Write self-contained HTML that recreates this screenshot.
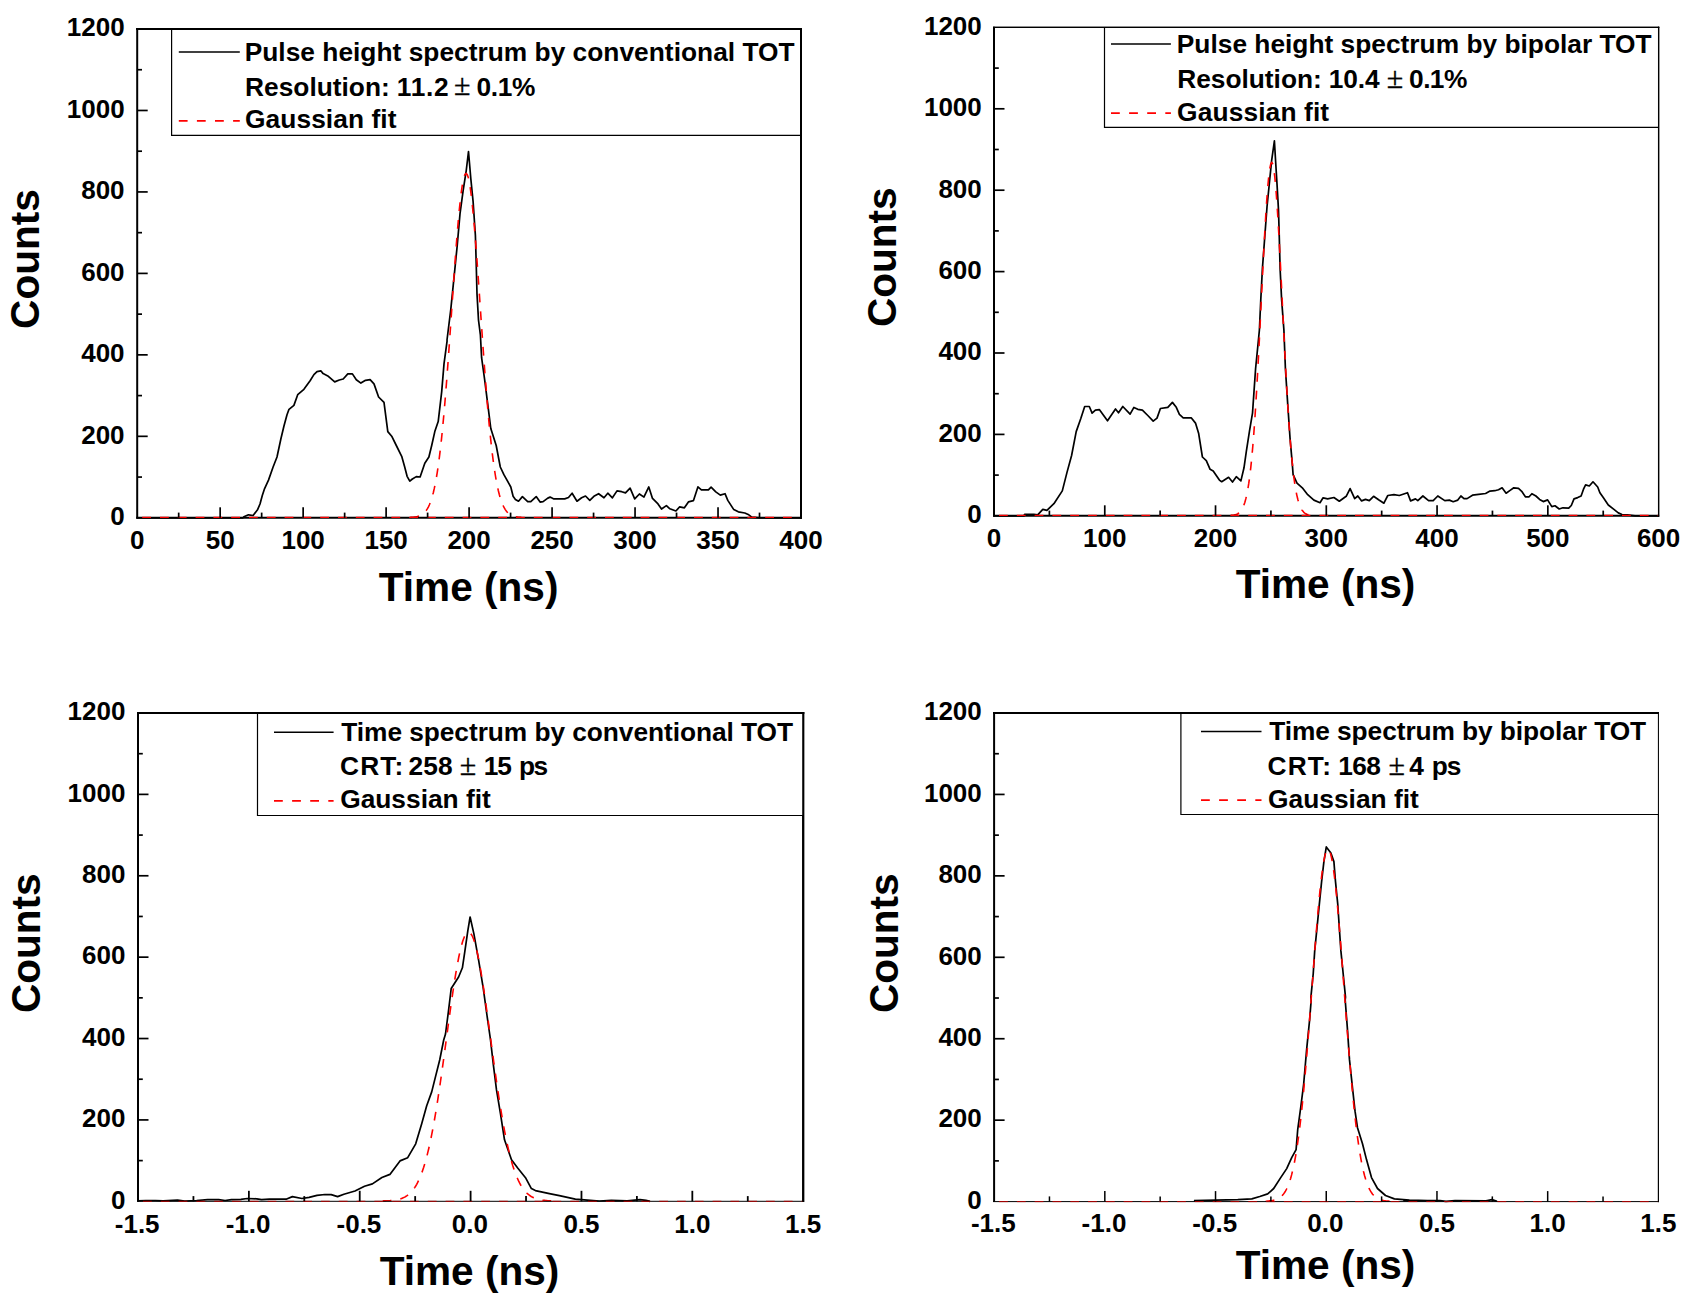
<!DOCTYPE html>
<html lang="en"><head><meta charset="utf-8"><title>TOT spectra</title>
<style>
html,body{margin:0;padding:0;background:#fff;}
body{width:1704px;height:1299px;overflow:hidden;}
svg{display:block;}
.t{font-family:"Liberation Sans", sans-serif;font-weight:bold;fill:#000;}
.n{font-family:"Liberation Serif","DejaVu Serif",serif;font-weight:normal;fill:#000;}
</style></head><body>
<svg width="1704" height="1299" viewBox="0 0 1704 1299">
<rect width="1704" height="1299" fill="#fff"/>
<g>
<path d="M137.2 517.8 L243.0 517.8 L243.9 516.8 L248.5 514.8 L253.1 515.5 L257.7 509.4 L260.0 504.0 L262.3 495.5 L264.6 488.6 L268.5 480.1 L273.1 467.0 L277.0 457.0 L280.8 439.3 L283.9 426.2 L287.0 414.7 L289.0 409.3 L293.9 405.4 L297.7 394.7 L303.9 389.3 L310.1 380.8 L313.9 374.6 L317.0 371.6 L320.8 370.8 L323.1 373.6 L327.8 375.9 L334.7 381.9 L339.3 380.0 L343.2 379.0 L347.8 373.9 L352.4 373.9 L356.3 379.7 L360.9 383.1 L365.5 380.3 L370.1 379.7 L374.0 383.9 L378.6 397.0 L384.0 402.4 L387.8 431.6 L391.7 436.2 L396.3 445.5 L401.7 456.3 L404.7 467.0 L407.1 476.3 L409.8 481.2 L412.4 479.0 L416.3 476.6 L420.1 477.0 L424.8 463.2 L428.9 457.0 L431.7 445.5 L434.8 431.6 L438.2 421.6 L441.7 391.6 L444.0 363.9 L447.1 340.8 L447.0 340.0 L450.8 309.4 L453.9 278.6 L457.0 247.8 L460.0 213.9 L463.1 190.8 L466.2 170.8 L468.5 151.5 L470.8 178.5 L473.1 201.6 L475.4 235.5 L476.2 263.2 L477.0 294.0 L478.5 320.1 L480.4 335.0 L481.6 357.7 L484.6 379.3 L487.7 403.9 L490.8 428.5 L496.2 445.5 L500.3 467.0 L503.9 474.7 L510.8 487.0 L513.1 496.3 L515.4 499.4 L518.5 501.2 L522.4 496.6 L527.7 501.7 L530.8 501.7 L536.2 496.6 L540.1 502.1 L543.1 501.7 L547.8 498.1 L550.1 497.1 L553.9 498.9 L564.7 498.9 L568.5 497.5 L572.1 493.2 L577.0 501.2 L581.6 497.8 L585.5 496.0 L589.8 500.3 L593.9 496.3 L598.6 493.7 L604.0 497.8 L607.8 493.2 L612.4 497.8 L617.0 490.9 L621.7 491.7 L625.5 492.9 L630.1 488.1 L634.7 498.9 L639.4 494.0 L644.0 497.1 L644.0 496.9 L648.8 486.9 L652.5 498.4 L658.0 503.9 L661.5 509.0 L666.4 505.6 L669.9 508.8 L675.9 511.0 L679.7 506.8 L684.4 507.8 L688.4 501.9 L693.4 500.7 L697.9 486.9 L701.4 489.9 L708.4 489.9 L711.1 487.1 L715.8 491.9 L720.3 495.1 L725.0 493.7 L727.8 500.4 L733.8 509.6 L738.3 511.8 L744.8 513.0 L748.8 514.8 L751.8 517.1 L760.0 517.8 L801.0 517.8" fill="none" stroke="#000" stroke-width="1.7" stroke-linejoin="round"/>
<path d="M410.3 517.4 L411.3 517.4 L412.3 517.3 L413.3 517.2 L414.3 517.1 L415.3 517.0 L416.3 516.8 L417.3 516.6 L418.3 516.3 L419.3 516.0 L420.3 515.5 L421.3 515.0 L422.3 514.4 L423.3 513.7 L424.3 512.8 L425.3 511.7 L426.3 510.4 L427.3 508.9 L428.3 507.1 L429.3 505.0 L430.3 502.5 L431.3 499.7 L432.3 496.4 L433.3 492.7 L434.3 488.4 L435.3 483.6 L436.3 478.2 L437.3 472.1 L438.3 465.4 L439.3 457.9 L440.3 449.7 L441.3 440.8 L442.3 431.1 L443.3 420.7 L444.3 409.6 L445.3 397.7 L446.3 385.2 L447.3 372.2 L448.3 358.6 L449.3 344.6 L450.3 330.2 L451.3 315.7 L452.3 301.1 L453.3 286.6 L454.3 272.3 L455.3 258.4 L456.3 245.1 L457.3 232.4 L458.3 220.6 L459.3 209.9 L460.3 200.3 L461.3 192.0 L462.3 185.2 L463.3 179.8 L464.3 176.0 L465.3 173.9 L466.3 173.4 L467.3 174.7 L468.3 177.6 L469.3 182.1 L470.3 188.1 L471.3 195.7 L472.3 204.6 L473.3 214.7 L474.3 225.9 L475.3 238.1 L476.3 251.1 L477.3 264.7 L478.3 278.8 L479.3 293.2 L480.3 307.8 L481.3 322.4 L482.3 336.8 L483.3 351.0 L484.3 364.9 L485.3 378.2 L486.3 391.1 L487.3 403.3 L488.3 414.8 L489.3 425.6 L490.3 435.7 L491.3 445.0 L492.3 453.6 L493.3 461.4 L494.3 468.6 L495.3 475.0 L496.3 480.8 L497.3 485.9 L498.3 490.5 L499.3 494.5 L500.3 498.0 L501.3 501.0 L502.3 503.7 L503.3 506.0 L504.3 507.9 L505.3 509.6 L506.3 511.0 L507.3 512.2 L508.3 513.2 L509.3 514.0 L510.3 514.7 L511.3 515.3 L512.3 515.7 L513.3 516.1 L514.3 516.4 L515.3 516.7 L516.3 516.9 L517.3 517.0 L518.3 517.2 L519.3 517.3 L520.3 517.3 L521.3 517.4" fill="none" stroke="#ff0000" stroke-width="1.6" stroke-dasharray="8.8 9" stroke-linejoin="round"/>
<line x1="137.20" y1="28.00" x2="137.20" y2="518.80" stroke="#000" stroke-width="2"/>
<line x1="801.00" y1="28.00" x2="801.00" y2="518.80" stroke="#000" stroke-width="2"/>
<line x1="136.20" y1="29.00" x2="802.00" y2="29.00" stroke="#000" stroke-width="2"/>
<line x1="136.20" y1="517.80" x2="802.00" y2="517.80" stroke="#000" stroke-width="2"/>
<line x1="138.20" y1="517.35" x2="800.50" y2="517.35" stroke="#ff0000" stroke-width="1.25" stroke-dasharray="8.8 9" stroke-dashoffset="-4"/>
<text x="124.60" y="525.10" text-anchor="end" font-size="26.0" class="t">0</text>
<line x1="137.20" y1="477.07" x2="142.00" y2="477.07" stroke="#000" stroke-width="1.7"/>
<line x1="137.20" y1="436.33" x2="147.70" y2="436.33" stroke="#000" stroke-width="1.7"/>
<text x="124.60" y="443.63" text-anchor="end" font-size="26.0" class="t">200</text>
<line x1="137.20" y1="395.60" x2="142.00" y2="395.60" stroke="#000" stroke-width="1.7"/>
<line x1="137.20" y1="354.87" x2="147.70" y2="354.87" stroke="#000" stroke-width="1.7"/>
<text x="124.60" y="362.17" text-anchor="end" font-size="26.0" class="t">400</text>
<line x1="137.20" y1="314.13" x2="142.00" y2="314.13" stroke="#000" stroke-width="1.7"/>
<line x1="137.20" y1="273.40" x2="147.70" y2="273.40" stroke="#000" stroke-width="1.7"/>
<text x="124.60" y="280.70" text-anchor="end" font-size="26.0" class="t">600</text>
<line x1="137.20" y1="232.67" x2="142.00" y2="232.67" stroke="#000" stroke-width="1.7"/>
<line x1="137.20" y1="191.93" x2="147.70" y2="191.93" stroke="#000" stroke-width="1.7"/>
<text x="124.60" y="199.23" text-anchor="end" font-size="26.0" class="t">800</text>
<line x1="137.20" y1="151.20" x2="142.00" y2="151.20" stroke="#000" stroke-width="1.7"/>
<line x1="137.20" y1="110.47" x2="147.70" y2="110.47" stroke="#000" stroke-width="1.7"/>
<text x="124.60" y="117.77" text-anchor="end" font-size="26.0" class="t">1000</text>
<line x1="137.20" y1="69.73" x2="142.00" y2="69.73" stroke="#000" stroke-width="1.7"/>
<text x="124.60" y="36.30" text-anchor="end" font-size="26.0" class="t">1200</text>
<text x="137.20" y="548.80" text-anchor="middle" font-size="26.0" class="t">0</text>
<line x1="178.69" y1="517.80" x2="178.69" y2="512.60" stroke="#000" stroke-width="1.7"/>
<line x1="220.17" y1="517.80" x2="220.17" y2="507.30" stroke="#000" stroke-width="1.7"/>
<text x="220.17" y="548.80" text-anchor="middle" font-size="26.0" class="t">50</text>
<line x1="261.66" y1="517.80" x2="261.66" y2="512.60" stroke="#000" stroke-width="1.7"/>
<line x1="303.15" y1="517.80" x2="303.15" y2="507.30" stroke="#000" stroke-width="1.7"/>
<text x="303.15" y="548.80" text-anchor="middle" font-size="26.0" class="t">100</text>
<line x1="344.64" y1="517.80" x2="344.64" y2="512.60" stroke="#000" stroke-width="1.7"/>
<line x1="386.12" y1="517.80" x2="386.12" y2="507.30" stroke="#000" stroke-width="1.7"/>
<text x="386.12" y="548.80" text-anchor="middle" font-size="26.0" class="t">150</text>
<line x1="427.61" y1="517.80" x2="427.61" y2="512.60" stroke="#000" stroke-width="1.7"/>
<line x1="469.10" y1="517.80" x2="469.10" y2="507.30" stroke="#000" stroke-width="1.7"/>
<text x="469.10" y="548.80" text-anchor="middle" font-size="26.0" class="t">200</text>
<line x1="510.59" y1="517.80" x2="510.59" y2="512.60" stroke="#000" stroke-width="1.7"/>
<line x1="552.08" y1="517.80" x2="552.08" y2="507.30" stroke="#000" stroke-width="1.7"/>
<text x="552.08" y="548.80" text-anchor="middle" font-size="26.0" class="t">250</text>
<line x1="593.56" y1="517.80" x2="593.56" y2="512.60" stroke="#000" stroke-width="1.7"/>
<line x1="635.05" y1="517.80" x2="635.05" y2="507.30" stroke="#000" stroke-width="1.7"/>
<text x="635.05" y="548.80" text-anchor="middle" font-size="26.0" class="t">300</text>
<line x1="676.54" y1="517.80" x2="676.54" y2="512.60" stroke="#000" stroke-width="1.7"/>
<line x1="718.03" y1="517.80" x2="718.03" y2="507.30" stroke="#000" stroke-width="1.7"/>
<text x="718.03" y="548.80" text-anchor="middle" font-size="26.0" class="t">350</text>
<line x1="759.51" y1="517.80" x2="759.51" y2="512.60" stroke="#000" stroke-width="1.7"/>
<text x="801.00" y="548.80" text-anchor="middle" font-size="26.0" class="t">400</text>
<text x="468.60" y="601.00" text-anchor="middle" font-size="40.6" class="t">Time (ns)</text>
<text transform="translate(38.90 259.00) rotate(-90)" text-anchor="middle" font-size="40.6" class="t">Counts</text>
<rect x="171.60" y="29.00" width="629.40" height="106.40" fill="#fff" stroke="none"/>
<path d="M171.60 29.00 V135.40 H801.00" fill="none" stroke="#000" stroke-width="1.2"/>
<line x1="178.80" y1="52.00" x2="239.80" y2="52.00" stroke="#000" stroke-width="1.6"/>
<line x1="178.80" y1="120.80" x2="239.80" y2="120.80" stroke="#ff0000" stroke-width="1.8" stroke-dasharray="8.8 9.3"/>
<text x="244.70" y="60.80" font-size="26.3" class="t" textLength="549.90" lengthAdjust="spacing">Pulse height spectrum by conventional TOT</text>
<text x="245.10" y="95.60" font-size="26.3" class="t">Resolution:</text>
<text x="396.80" y="95.60" font-size="26.3" class="t" textLength="51.80" lengthAdjust="spacing">11.2</text>
<text x="454.00" y="95.30" font-size="30" class="n" stroke="#000" stroke-width="0.35">±</text>
<text x="476.50" y="95.60" font-size="26.3" class="t" textLength="58.90" lengthAdjust="spacing">0.1%</text>
<text x="245.00" y="128.40" font-size="26.3" class="t" textLength="151.50" lengthAdjust="spacing">Gaussian fit</text>
<line x1="801.00" y1="28.00" x2="801.00" y2="518.80" stroke="#000" stroke-width="2"/>
<line x1="136.20" y1="29.00" x2="802.00" y2="29.00" stroke="#000" stroke-width="2"/>
</g>
<g>
<path d="M994.0 515.8 L1024.0 515.8 L1024.6 514.4 L1033.9 514.4 L1037.7 514.8 L1042.8 509.4 L1046.9 510.4 L1053.9 503.7 L1062.3 490.9 L1067.0 472.4 L1071.6 455.5 L1076.2 431.6 L1080.8 418.5 L1084.7 406.5 L1089.3 406.5 L1092.1 413.1 L1095.4 410.1 L1099.3 409.6 L1107.5 420.8 L1115.5 409.0 L1118.5 412.8 L1122.8 406.5 L1130.1 414.2 L1133.9 407.4 L1137.8 409.3 L1142.4 410.1 L1147.8 415.5 L1153.2 421.1 L1157.0 418.1 L1160.4 408.5 L1167.8 407.4 L1172.4 402.4 L1176.3 407.3 L1179.4 414.4 L1183.2 417.8 L1191.2 417.8 L1195.5 423.1 L1198.6 433.2 L1202.4 457.0 L1206.3 460.6 L1210.1 469.3 L1213.2 470.9 L1219.4 480.1 L1221.7 481.7 L1228.6 477.3 L1232.5 482.0 L1236.3 476.7 L1240.9 480.9 L1244.0 467.8 L1246.3 451.6 L1249.4 431.6 L1252.5 413.1 L1254.0 391.6 L1255.6 368.5 L1257.9 345.4 L1259.4 330.0 L1260.8 299.4 L1262.4 268.6 L1264.7 237.8 L1267.0 207.0 L1269.3 183.9 L1271.6 160.8 L1274.4 140.8 L1275.4 157.7 L1277.0 183.9 L1278.5 210.1 L1279.3 237.8 L1280.1 268.6 L1281.6 299.4 L1283.9 330.0 L1285.4 368.5 L1287.7 403.9 L1290.0 437.8 L1292.3 463.9 L1293.1 474.7 L1297.0 483.2 L1302.3 487.8 L1307.7 494.7 L1313.9 500.1 L1320.0 502.7 L1323.1 497.8 L1327.7 498.9 L1333.9 497.5 L1339.3 501.2 L1346.2 496.3 L1350.1 488.6 L1354.7 498.6 L1357.8 496.0 L1361.6 500.9 L1365.5 499.4 L1369.3 500.6 L1373.6 496.3 L1378.6 499.8 L1383.9 503.2 L1387.8 495.5 L1393.9 494.7 L1399.3 495.5 L1407.5 492.7 L1410.6 500.9 L1415.5 498.9 L1417.8 500.6 L1422.9 496.0 L1428.6 500.6 L1433.2 500.6 L1437.8 496.0 L1444.8 500.6 L1449.4 500.1 L1453.2 501.7 L1457.8 500.1 L1460.9 496.0 L1464.0 498.6 L1467.1 498.6 L1472.5 495.2 L1478.6 494.4 L1485.6 493.5 L1490.0 491.1 L1494.8 490.7 L1498.5 489.7 L1502.1 487.8 L1506.1 493.2 L1510.1 490.4 L1513.8 487.8 L1518.5 488.4 L1521.7 491.3 L1525.4 496.8 L1529.1 496.8 L1531.9 493.7 L1535.9 496.0 L1539.6 499.4 L1543.3 501.6 L1547.6 499.9 L1551.8 506.6 L1555.0 505.8 L1559.2 509.0 L1562.9 507.8 L1568.7 508.2 L1571.3 505.5 L1574.0 498.9 L1577.7 497.6 L1581.1 496.0 L1583.5 489.2 L1585.6 484.9 L1589.3 486.0 L1593.0 481.8 L1597.7 487.0 L1599.9 492.8 L1603.6 498.1 L1608.3 505.0 L1613.6 509.2 L1618.3 512.9 L1622.0 514.5 L1627.3 514.8 L1635.0 515.8 L1658.6 515.8" fill="none" stroke="#000" stroke-width="1.7" stroke-linejoin="round"/>
<path d="M1230.8 515.4 L1231.8 515.3 L1232.8 515.2 L1233.8 515.1 L1234.8 514.9 L1235.8 514.6 L1236.8 514.2 L1237.8 513.7 L1238.8 513.0 L1239.8 512.2 L1240.8 511.0 L1241.8 509.6 L1242.8 507.7 L1243.8 505.4 L1244.8 502.5 L1245.8 498.9 L1246.8 494.6 L1247.8 489.4 L1248.8 483.2 L1249.8 475.9 L1250.8 467.3 L1251.8 457.5 L1252.8 446.3 L1253.8 433.7 L1254.8 419.6 L1255.8 404.2 L1256.8 387.4 L1257.8 369.4 L1258.8 350.5 L1259.8 330.7 L1260.8 310.5 L1261.8 290.1 L1262.8 269.9 L1263.8 250.4 L1264.8 231.8 L1265.8 214.7 L1266.8 199.5 L1267.8 186.5 L1268.8 176.0 L1269.8 168.4 L1270.8 163.8 L1271.8 162.3 L1272.8 164.1 L1273.8 169.0 L1274.8 176.9 L1275.8 187.6 L1276.8 200.9 L1277.8 216.4 L1278.8 233.6 L1279.8 252.3 L1280.8 271.9 L1281.8 292.1 L1282.8 312.5 L1283.8 332.7 L1284.8 352.4 L1285.8 371.3 L1286.8 389.1 L1287.8 405.8 L1288.8 421.1 L1289.8 435.0 L1290.8 447.5 L1291.8 458.5 L1292.8 468.2 L1293.8 476.7 L1294.8 483.9 L1295.8 490.0 L1296.8 495.1 L1297.8 499.3 L1298.8 502.8 L1299.8 505.6 L1300.8 507.9 L1301.8 509.7 L1302.8 511.1 L1303.8 512.3 L1304.8 513.1 L1305.8 513.8 L1306.8 514.3 L1307.8 514.6 L1308.8 514.9 L1309.8 515.1 L1310.8 515.2 L1311.8 515.4" fill="none" stroke="#ff0000" stroke-width="1.6" stroke-dasharray="8.8 9" stroke-linejoin="round"/>
<line x1="994.00" y1="26.70" x2="994.00" y2="516.80" stroke="#000" stroke-width="2"/>
<line x1="1658.60" y1="26.70" x2="1658.60" y2="516.80" stroke="#000" stroke-width="1.25"/>
<line x1="993.00" y1="27.40" x2="1659.22" y2="27.40" stroke="#000" stroke-width="1.4"/>
<line x1="993.00" y1="515.80" x2="1659.22" y2="515.80" stroke="#000" stroke-width="2"/>
<line x1="995.00" y1="515.35" x2="1658.10" y2="515.35" stroke="#ff0000" stroke-width="1.25" stroke-dasharray="8.8 9" stroke-dashoffset="-4"/>
<text x="981.80" y="523.10" text-anchor="end" font-size="26.0" class="t">0</text>
<line x1="994.00" y1="475.10" x2="998.80" y2="475.10" stroke="#000" stroke-width="1.7"/>
<line x1="994.00" y1="434.40" x2="1004.50" y2="434.40" stroke="#000" stroke-width="1.7"/>
<text x="981.80" y="441.70" text-anchor="end" font-size="26.0" class="t">200</text>
<line x1="994.00" y1="393.70" x2="998.80" y2="393.70" stroke="#000" stroke-width="1.7"/>
<line x1="994.00" y1="353.00" x2="1004.50" y2="353.00" stroke="#000" stroke-width="1.7"/>
<text x="981.80" y="360.30" text-anchor="end" font-size="26.0" class="t">400</text>
<line x1="994.00" y1="312.30" x2="998.80" y2="312.30" stroke="#000" stroke-width="1.7"/>
<line x1="994.00" y1="271.60" x2="1004.50" y2="271.60" stroke="#000" stroke-width="1.7"/>
<text x="981.80" y="278.90" text-anchor="end" font-size="26.0" class="t">600</text>
<line x1="994.00" y1="230.90" x2="998.80" y2="230.90" stroke="#000" stroke-width="1.7"/>
<line x1="994.00" y1="190.20" x2="1004.50" y2="190.20" stroke="#000" stroke-width="1.7"/>
<text x="981.80" y="197.50" text-anchor="end" font-size="26.0" class="t">800</text>
<line x1="994.00" y1="149.50" x2="998.80" y2="149.50" stroke="#000" stroke-width="1.7"/>
<line x1="994.00" y1="108.80" x2="1004.50" y2="108.80" stroke="#000" stroke-width="1.7"/>
<text x="981.80" y="116.10" text-anchor="end" font-size="26.0" class="t">1000</text>
<line x1="994.00" y1="68.10" x2="998.80" y2="68.10" stroke="#000" stroke-width="1.7"/>
<text x="981.80" y="34.70" text-anchor="end" font-size="26.0" class="t">1200</text>
<text x="994.00" y="546.60" text-anchor="middle" font-size="26.0" class="t">0</text>
<line x1="1049.38" y1="515.80" x2="1049.38" y2="510.60" stroke="#000" stroke-width="1.7"/>
<line x1="1104.77" y1="515.80" x2="1104.77" y2="505.30" stroke="#000" stroke-width="1.7"/>
<text x="1104.77" y="546.60" text-anchor="middle" font-size="26.0" class="t">100</text>
<line x1="1160.15" y1="515.80" x2="1160.15" y2="510.60" stroke="#000" stroke-width="1.7"/>
<line x1="1215.53" y1="515.80" x2="1215.53" y2="505.30" stroke="#000" stroke-width="1.7"/>
<text x="1215.53" y="546.60" text-anchor="middle" font-size="26.0" class="t">200</text>
<line x1="1270.92" y1="515.80" x2="1270.92" y2="510.60" stroke="#000" stroke-width="1.7"/>
<line x1="1326.30" y1="515.80" x2="1326.30" y2="505.30" stroke="#000" stroke-width="1.7"/>
<text x="1326.30" y="546.60" text-anchor="middle" font-size="26.0" class="t">300</text>
<line x1="1381.68" y1="515.80" x2="1381.68" y2="510.60" stroke="#000" stroke-width="1.7"/>
<line x1="1437.07" y1="515.80" x2="1437.07" y2="505.30" stroke="#000" stroke-width="1.7"/>
<text x="1437.07" y="546.60" text-anchor="middle" font-size="26.0" class="t">400</text>
<line x1="1492.45" y1="515.80" x2="1492.45" y2="510.60" stroke="#000" stroke-width="1.7"/>
<line x1="1547.83" y1="515.80" x2="1547.83" y2="505.30" stroke="#000" stroke-width="1.7"/>
<text x="1547.83" y="546.60" text-anchor="middle" font-size="26.0" class="t">500</text>
<line x1="1603.22" y1="515.80" x2="1603.22" y2="510.60" stroke="#000" stroke-width="1.7"/>
<text x="1658.60" y="546.60" text-anchor="middle" font-size="26.0" class="t">600</text>
<text x="1325.50" y="597.70" text-anchor="middle" font-size="40.6" class="t">Time (ns)</text>
<text transform="translate(895.60 257.20) rotate(-90)" text-anchor="middle" font-size="40.6" class="t">Counts</text>
<rect x="1104.50" y="27.40" width="554.10" height="100.00" fill="#fff" stroke="none"/>
<path d="M1104.50 27.40 V127.40 H1658.60" fill="none" stroke="#000" stroke-width="1.2"/>
<line x1="1111.00" y1="44.00" x2="1170.90" y2="44.00" stroke="#000" stroke-width="1.6"/>
<line x1="1111.00" y1="113.10" x2="1170.90" y2="113.10" stroke="#ff0000" stroke-width="1.8" stroke-dasharray="8.8 9.3"/>
<text x="1176.80" y="53.30" font-size="26.3" class="t" textLength="474.80" lengthAdjust="spacing">Pulse height spectrum by bipolar TOT</text>
<text x="1177.20" y="88.40" font-size="26.3" class="t">Resolution:</text>
<text x="1328.80" y="88.40" font-size="26.3" class="t" textLength="50.90" lengthAdjust="spacing">10.4</text>
<text x="1386.70" y="88.10" font-size="30" class="n" stroke="#000" stroke-width="0.35">±</text>
<text x="1409.10" y="88.40" font-size="26.3" class="t" textLength="58.20" lengthAdjust="spacing">0.1%</text>
<text x="1177.10" y="121.20" font-size="26.3" class="t" textLength="152.00" lengthAdjust="spacing">Gaussian fit</text>
<line x1="1658.60" y1="26.70" x2="1658.60" y2="516.80" stroke="#000" stroke-width="1.25"/>
<line x1="993.00" y1="27.40" x2="1659.22" y2="27.40" stroke="#000" stroke-width="1.4"/>
</g>
<g>
<path d="M137.9 1200.8 L145.8 1200.5 L155.4 1200.5 L163.3 1200.8 L177.5 1200.2 L184.7 1201.0 L196.6 1200.5 L207.6 1199.7 L218.7 1199.7 L225.1 1200.5 L231.4 1199.7 L240.9 1199.4 L247.3 1198.5 L256.8 1198.8 L261.5 1199.7 L269.4 1199.2 L278.9 1199.2 L286.1 1199.2 L292.4 1196.6 L301.9 1198.5 L309.1 1197.3 L317.0 1195.4 L324.9 1194.5 L331.2 1194.6 L337.6 1196.6 L343.9 1194.2 L355.0 1191.0 L364.5 1186.3 L372.4 1183.9 L381.9 1177.5 L389.9 1174.4 L400.0 1160.9 L407.7 1157.7 L415.7 1143.8 L421.7 1123.8 L426.7 1105.8 L431.7 1091.9 L435.7 1075.9 L439.7 1060.0 L443.7 1040.0 L445.5 1034.0 L448.5 1010.9 L451.2 988.5 L458.6 977.0 L462.4 967.8 L464.7 952.4 L467.8 930.8 L470.1 917.0 L473.9 933.9 L478.6 960.1 L483.2 987.8 L487.0 1015.5 L490.1 1037.0 L490.5 1040.0 L493.5 1065.9 L496.5 1089.9 L500.5 1113.8 L504.5 1139.8 L511.5 1159.7 L517.5 1167.7 L525.5 1177.7 L531.4 1188.6 L535.4 1190.6 L549.4 1193.6 L559.4 1195.6 L575.3 1199.2 L587.3 1200.2 L599.3 1201.0 L611.3 1200.4 L627.2 1200.8 L640.0 1199.6 L646.0 1200.4 L650.0 1201.3" fill="none" stroke="#000" stroke-width="1.7" stroke-linejoin="round"/>
<path d="M382.7 1201.0 L383.7 1200.9 L384.7 1200.9 L385.7 1200.9 L386.7 1200.8 L387.7 1200.8 L388.7 1200.7 L389.7 1200.7 L390.7 1200.6 L391.7 1200.5 L392.7 1200.4 L393.7 1200.3 L394.7 1200.1 L395.7 1200.0 L396.7 1199.8 L397.7 1199.6 L398.7 1199.3 L399.7 1199.1 L400.7 1198.8 L401.7 1198.4 L402.7 1198.0 L403.7 1197.6 L404.7 1197.1 L405.7 1196.5 L406.7 1195.9 L407.7 1195.2 L408.7 1194.4 L409.7 1193.5 L410.7 1192.6 L411.7 1191.5 L412.7 1190.3 L413.7 1189.0 L414.7 1187.6 L415.7 1186.0 L416.7 1184.3 L417.7 1182.4 L418.7 1180.3 L419.7 1178.1 L420.7 1175.7 L421.7 1173.1 L422.7 1170.3 L423.7 1167.3 L424.7 1164.0 L425.7 1160.6 L426.7 1156.9 L427.7 1152.9 L428.7 1148.7 L429.7 1144.3 L430.7 1139.6 L431.7 1134.7 L432.7 1129.5 L433.7 1124.1 L434.7 1118.5 L435.7 1112.6 L436.7 1106.5 L437.7 1100.2 L438.7 1093.6 L439.7 1086.9 L440.7 1080.0 L441.7 1073.0 L442.7 1065.9 L443.7 1058.6 L444.7 1051.3 L445.7 1043.9 L446.7 1036.5 L447.7 1029.1 L448.7 1021.7 L449.7 1014.4 L450.7 1007.2 L451.7 1000.2 L452.7 993.3 L453.7 986.6 L454.7 980.2 L455.7 974.0 L456.7 968.2 L457.7 962.7 L458.7 957.5 L459.7 952.8 L460.7 948.5 L461.7 944.7 L462.7 941.3 L463.7 938.5 L464.7 936.1 L465.7 934.3 L466.7 933.0 L467.7 932.3 L468.7 932.1 L469.7 932.5 L470.7 933.5 L471.7 935.0 L472.7 937.0 L473.7 939.5 L474.7 942.6 L475.7 946.2 L476.7 950.2 L477.7 954.6 L478.7 959.5 L479.7 964.8 L480.7 970.5 L481.7 976.4 L482.7 982.7 L483.7 989.2 L484.7 996.0 L485.7 1003.0 L486.7 1010.1 L487.7 1017.3 L488.7 1024.6 L489.7 1032.0 L490.7 1039.4 L491.7 1046.9 L492.7 1054.2 L493.7 1061.5 L494.7 1068.7 L495.7 1075.9 L496.7 1082.8 L497.7 1089.6 L498.7 1096.3 L499.7 1102.7 L500.7 1108.9 L501.7 1115.0 L502.7 1120.8 L503.7 1126.3 L504.7 1131.6 L505.7 1136.7 L506.7 1141.5 L507.7 1146.1 L508.7 1150.4 L509.7 1154.5 L510.7 1158.4 L511.7 1162.0 L512.7 1165.4 L513.7 1168.5 L514.7 1171.4 L515.7 1174.2 L516.7 1176.7 L517.7 1179.0 L518.7 1181.2 L519.7 1183.2 L520.7 1185.0 L521.7 1186.6 L522.7 1188.2 L523.7 1189.5 L524.7 1190.8 L525.7 1191.9 L526.7 1193.0 L527.7 1193.9 L528.7 1194.7 L529.7 1195.5 L530.7 1196.2 L531.7 1196.8 L532.7 1197.3 L533.7 1197.8 L534.7 1198.2 L535.7 1198.6 L536.7 1198.9 L537.7 1199.2 L538.7 1199.4 L539.7 1199.7 L540.7 1199.9 L541.7 1200.0 L542.7 1200.2 L543.7 1200.3 L544.7 1200.4 L545.7 1200.5 L546.7 1200.6 L547.7 1200.7 L548.7 1200.8 L549.7 1200.8 L550.7 1200.8 L551.7 1200.9 L552.7 1200.9 L553.7 1201.0" fill="none" stroke="#ff0000" stroke-width="1.6" stroke-dasharray="8.8 9" stroke-linejoin="round"/>
<line x1="138.00" y1="712.00" x2="138.00" y2="1201.80" stroke="#000" stroke-width="2"/>
<line x1="803.20" y1="712.00" x2="803.20" y2="1201.80" stroke="#000" stroke-width="2"/>
<line x1="137.00" y1="713.00" x2="804.20" y2="713.00" stroke="#000" stroke-width="2"/>
<line x1="137.00" y1="1201.30" x2="804.20" y2="1201.30" stroke="#000" stroke-width="1"/>
<line x1="139.00" y1="1201.30" x2="802.70" y2="1201.30" stroke="#b00000" stroke-width="1.0" stroke-dasharray="8.8 9" stroke-dashoffset="-4"/>
<text x="125.40" y="1208.60" text-anchor="end" font-size="26.0" class="t">0</text>
<line x1="138.00" y1="1160.61" x2="142.80" y2="1160.61" stroke="#000" stroke-width="1.7"/>
<line x1="138.00" y1="1119.92" x2="148.50" y2="1119.92" stroke="#000" stroke-width="1.7"/>
<text x="125.40" y="1127.22" text-anchor="end" font-size="26.0" class="t">200</text>
<line x1="138.00" y1="1079.22" x2="142.80" y2="1079.22" stroke="#000" stroke-width="1.7"/>
<line x1="138.00" y1="1038.53" x2="148.50" y2="1038.53" stroke="#000" stroke-width="1.7"/>
<text x="125.40" y="1045.83" text-anchor="end" font-size="26.0" class="t">400</text>
<line x1="138.00" y1="997.84" x2="142.80" y2="997.84" stroke="#000" stroke-width="1.7"/>
<line x1="138.00" y1="957.15" x2="148.50" y2="957.15" stroke="#000" stroke-width="1.7"/>
<text x="125.40" y="964.45" text-anchor="end" font-size="26.0" class="t">600</text>
<line x1="138.00" y1="916.46" x2="142.80" y2="916.46" stroke="#000" stroke-width="1.7"/>
<line x1="138.00" y1="875.77" x2="148.50" y2="875.77" stroke="#000" stroke-width="1.7"/>
<text x="125.40" y="883.07" text-anchor="end" font-size="26.0" class="t">800</text>
<line x1="138.00" y1="835.08" x2="142.80" y2="835.08" stroke="#000" stroke-width="1.7"/>
<line x1="138.00" y1="794.38" x2="148.50" y2="794.38" stroke="#000" stroke-width="1.7"/>
<text x="125.40" y="801.68" text-anchor="end" font-size="26.0" class="t">1000</text>
<line x1="138.00" y1="753.69" x2="142.80" y2="753.69" stroke="#000" stroke-width="1.7"/>
<text x="125.40" y="720.30" text-anchor="end" font-size="26.0" class="t">1200</text>
<text x="137.20" y="1232.80" text-anchor="middle" font-size="26.0" class="t">-1.5</text>
<line x1="193.43" y1="1201.30" x2="193.43" y2="1196.10" stroke="#000" stroke-width="1.8"/>
<line x1="248.87" y1="1201.30" x2="248.87" y2="1190.80" stroke="#000" stroke-width="1.8"/>
<text x="248.07" y="1232.80" text-anchor="middle" font-size="26.0" class="t">-1.0</text>
<line x1="304.30" y1="1201.30" x2="304.30" y2="1196.10" stroke="#000" stroke-width="1.8"/>
<line x1="359.73" y1="1201.30" x2="359.73" y2="1190.80" stroke="#000" stroke-width="1.8"/>
<text x="358.93" y="1232.80" text-anchor="middle" font-size="26.0" class="t">-0.5</text>
<line x1="415.17" y1="1201.30" x2="415.17" y2="1196.10" stroke="#000" stroke-width="1.8"/>
<line x1="470.60" y1="1201.30" x2="470.60" y2="1190.80" stroke="#000" stroke-width="1.8"/>
<text x="469.80" y="1232.80" text-anchor="middle" font-size="26.0" class="t">0.0</text>
<line x1="526.03" y1="1201.30" x2="526.03" y2="1196.10" stroke="#000" stroke-width="1.8"/>
<line x1="581.47" y1="1201.30" x2="581.47" y2="1190.80" stroke="#000" stroke-width="1.8"/>
<text x="581.47" y="1232.80" text-anchor="middle" font-size="26.0" class="t">0.5</text>
<line x1="636.90" y1="1201.30" x2="636.90" y2="1196.10" stroke="#000" stroke-width="1.8"/>
<line x1="692.33" y1="1201.30" x2="692.33" y2="1190.80" stroke="#000" stroke-width="1.8"/>
<text x="692.33" y="1232.80" text-anchor="middle" font-size="26.0" class="t">1.0</text>
<line x1="747.77" y1="1201.30" x2="747.77" y2="1196.10" stroke="#000" stroke-width="1.8"/>
<text x="803.20" y="1232.80" text-anchor="middle" font-size="26.0" class="t">1.5</text>
<text x="469.50" y="1285.20" text-anchor="middle" font-size="40.6" class="t">Time (ns)</text>
<text transform="translate(39.70 943.20) rotate(-90)" text-anchor="middle" font-size="40.6" class="t">Counts</text>
<rect x="257.50" y="713.00" width="545.70" height="102.50" fill="#fff" stroke="none"/>
<path d="M257.50 713.00 V815.50 H803.20" fill="none" stroke="#000" stroke-width="1.2"/>
<line x1="274.00" y1="732.20" x2="333.60" y2="732.20" stroke="#000" stroke-width="1.6"/>
<line x1="274.00" y1="800.90" x2="333.60" y2="800.90" stroke="#ff0000" stroke-width="1.8" stroke-dasharray="8.8 9.3"/>
<text x="341.30" y="740.60" font-size="26.3" class="t" textLength="451.70" lengthAdjust="spacing">Time spectrum by conventional TOT</text>
<text x="340.10" y="775.30" font-size="26.3" class="t" textLength="63.10" lengthAdjust="spacing">CRT:</text>
<text x="408.50" y="775.30" font-size="26.3" class="t" textLength="44.20" lengthAdjust="spacing">258</text>
<text x="459.80" y="775.00" font-size="30" class="n" stroke="#000" stroke-width="0.35">±</text>
<text x="483.80" y="775.30" font-size="26.3" class="t" textLength="28.20" lengthAdjust="spacing">15</text>
<text x="518.90" y="775.30" font-size="26.3" class="t" textLength="29.20" lengthAdjust="spacing">ps</text>
<text x="340.20" y="808.00" font-size="26.3" class="t" textLength="150.60" lengthAdjust="spacing">Gaussian fit</text>
<line x1="803.20" y1="712.00" x2="803.20" y2="1201.80" stroke="#000" stroke-width="2"/>
<line x1="137.00" y1="713.00" x2="804.20" y2="713.00" stroke="#000" stroke-width="2"/>
</g>
<g>
<path d="M1193.9 1200.7 L1237.8 1199.7 L1251.8 1198.9 L1259.8 1196.5 L1267.7 1193.9 L1273.7 1188.5 L1280.7 1177.6 L1286.7 1168.6 L1291.7 1157.6 L1296.1 1149.6 L1297.7 1129.7 L1300.7 1107.7 L1303.7 1083.8 L1306.6 1049.9 L1309.6 1020.0 L1311.2 1000.0 L1310.9 997.1 L1313.2 974.0 L1314.7 950.9 L1317.0 927.8 L1319.3 904.7 L1321.6 881.6 L1323.9 861.6 L1326.3 846.9 L1330.9 853.1 L1333.9 861.6 L1335.5 881.6 L1337.8 904.7 L1339.3 927.8 L1340.9 950.9 L1343.2 974.0 L1345.5 997.1 L1345.2 1000.0 L1347.5 1029.9 L1349.5 1059.9 L1352.5 1087.8 L1355.1 1111.7 L1357.5 1127.7 L1362.5 1143.7 L1366.5 1159.6 L1371.5 1177.6 L1377.5 1188.5 L1385.5 1195.5 L1394.4 1198.9 L1409.4 1200.1 L1427.4 1200.7 L1404.0 1200.6 L1440.0 1200.7 L1446.0 1201.4 L1455.0 1200.6 L1486.0 1200.9 L1492.0 1199.6 L1497.0 1201.3" fill="none" stroke="#000" stroke-width="1.7" stroke-linejoin="round"/>
<path d="M1265.6 1201.2 L1266.6 1201.2 L1267.6 1201.1 L1268.6 1201.0 L1269.6 1200.9 L1270.6 1200.8 L1271.6 1200.7 L1272.6 1200.5 L1273.6 1200.3 L1274.6 1200.1 L1275.6 1199.7 L1276.6 1199.4 L1277.6 1198.9 L1278.6 1198.4 L1279.6 1197.8 L1280.6 1197.0 L1281.6 1196.1 L1282.6 1195.1 L1283.6 1193.9 L1284.6 1192.5 L1285.6 1190.9 L1286.6 1189.0 L1287.6 1186.9 L1288.6 1184.4 L1289.6 1181.6 L1290.6 1178.5 L1291.6 1174.9 L1292.6 1170.9 L1293.6 1166.5 L1294.6 1161.5 L1295.6 1156.1 L1296.6 1150.1 L1297.6 1143.5 L1298.6 1136.3 L1299.6 1128.5 L1300.6 1120.1 L1301.6 1111.1 L1302.6 1101.5 L1303.6 1091.3 L1304.6 1080.5 L1305.6 1069.2 L1306.6 1057.4 L1307.6 1045.2 L1308.6 1032.5 L1309.6 1019.6 L1310.6 1006.4 L1311.6 993.1 L1312.6 979.8 L1313.6 966.5 L1314.6 953.4 L1315.6 940.6 L1316.6 928.2 L1317.6 916.3 L1318.6 905.0 L1319.6 894.5 L1320.6 884.9 L1321.6 876.3 L1322.6 868.7 L1323.6 862.3 L1324.6 857.1 L1325.6 853.1 L1326.6 850.5 L1327.6 849.3 L1328.6 849.4 L1329.6 851.0 L1330.6 853.8 L1331.6 858.0 L1332.6 863.5 L1333.6 870.1 L1334.6 877.9 L1335.6 886.8 L1336.6 896.6 L1337.6 907.2 L1338.6 918.6 L1339.6 930.6 L1340.6 943.1 L1341.6 956.0 L1342.6 969.1 L1343.6 982.4 L1344.6 995.8 L1345.6 1009.1 L1346.6 1022.2 L1347.6 1035.1 L1348.6 1047.6 L1349.6 1059.8 L1350.6 1071.5 L1351.6 1082.7 L1352.6 1093.4 L1353.6 1103.5 L1354.6 1113.0 L1355.6 1121.9 L1356.6 1130.1 L1357.6 1137.8 L1358.6 1144.8 L1359.6 1151.3 L1360.6 1157.2 L1361.6 1162.6 L1362.6 1167.4 L1363.6 1171.8 L1364.6 1175.7 L1365.6 1179.1 L1366.6 1182.2 L1367.6 1184.9 L1368.6 1187.3 L1369.6 1189.4 L1370.6 1191.2 L1371.6 1192.8 L1372.6 1194.2 L1373.6 1195.3 L1374.6 1196.3 L1375.6 1197.2 L1376.6 1197.9 L1377.6 1198.5 L1378.6 1199.0 L1379.6 1199.5 L1380.6 1199.8 L1381.6 1200.1 L1382.6 1200.4 L1383.6 1200.6 L1384.6 1200.7 L1385.6 1200.9 L1386.6 1201.0 L1387.6 1201.1 L1388.6 1201.1 L1389.6 1201.2" fill="none" stroke="#ff0000" stroke-width="1.6" stroke-dasharray="8.8 9" stroke-linejoin="round"/>
<line x1="994.10" y1="712.00" x2="994.10" y2="1202.10" stroke="#000" stroke-width="2"/>
<line x1="1658.40" y1="712.00" x2="1658.40" y2="1202.10" stroke="#000" stroke-width="1"/>
<line x1="993.10" y1="713.00" x2="1658.90" y2="713.00" stroke="#000" stroke-width="2"/>
<line x1="993.10" y1="1201.60" x2="1658.90" y2="1201.60" stroke="#000" stroke-width="1"/>
<line x1="995.10" y1="1201.60" x2="1657.90" y2="1201.60" stroke="#b00000" stroke-width="1.0" stroke-dasharray="8.8 9" stroke-dashoffset="-4"/>
<text x="981.80" y="1208.90" text-anchor="end" font-size="26.0" class="t">0</text>
<line x1="994.10" y1="1160.88" x2="998.90" y2="1160.88" stroke="#000" stroke-width="1.7"/>
<line x1="994.10" y1="1120.17" x2="1004.60" y2="1120.17" stroke="#000" stroke-width="1.7"/>
<text x="981.80" y="1127.47" text-anchor="end" font-size="26.0" class="t">200</text>
<line x1="994.10" y1="1079.45" x2="998.90" y2="1079.45" stroke="#000" stroke-width="1.7"/>
<line x1="994.10" y1="1038.73" x2="1004.60" y2="1038.73" stroke="#000" stroke-width="1.7"/>
<text x="981.80" y="1046.03" text-anchor="end" font-size="26.0" class="t">400</text>
<line x1="994.10" y1="998.02" x2="998.90" y2="998.02" stroke="#000" stroke-width="1.7"/>
<line x1="994.10" y1="957.30" x2="1004.60" y2="957.30" stroke="#000" stroke-width="1.7"/>
<text x="981.80" y="964.60" text-anchor="end" font-size="26.0" class="t">600</text>
<line x1="994.10" y1="916.58" x2="998.90" y2="916.58" stroke="#000" stroke-width="1.7"/>
<line x1="994.10" y1="875.87" x2="1004.60" y2="875.87" stroke="#000" stroke-width="1.7"/>
<text x="981.80" y="883.17" text-anchor="end" font-size="26.0" class="t">800</text>
<line x1="994.10" y1="835.15" x2="998.90" y2="835.15" stroke="#000" stroke-width="1.7"/>
<line x1="994.10" y1="794.43" x2="1004.60" y2="794.43" stroke="#000" stroke-width="1.7"/>
<text x="981.80" y="801.73" text-anchor="end" font-size="26.0" class="t">1000</text>
<line x1="994.10" y1="753.72" x2="998.90" y2="753.72" stroke="#000" stroke-width="1.7"/>
<text x="981.80" y="720.30" text-anchor="end" font-size="26.0" class="t">1200</text>
<text x="993.30" y="1231.90" text-anchor="middle" font-size="26.0" class="t">-1.5</text>
<line x1="1049.46" y1="1201.60" x2="1049.46" y2="1196.40" stroke="#000" stroke-width="1.5"/>
<line x1="1104.82" y1="1201.60" x2="1104.82" y2="1191.10" stroke="#000" stroke-width="1.5"/>
<text x="1104.02" y="1231.90" text-anchor="middle" font-size="26.0" class="t">-1.0</text>
<line x1="1160.17" y1="1201.60" x2="1160.17" y2="1196.40" stroke="#000" stroke-width="1.5"/>
<line x1="1215.53" y1="1201.60" x2="1215.53" y2="1191.10" stroke="#000" stroke-width="1.5"/>
<text x="1214.73" y="1231.90" text-anchor="middle" font-size="26.0" class="t">-0.5</text>
<line x1="1270.89" y1="1201.60" x2="1270.89" y2="1196.40" stroke="#000" stroke-width="1.5"/>
<line x1="1326.25" y1="1201.60" x2="1326.25" y2="1191.10" stroke="#000" stroke-width="1.5"/>
<text x="1325.45" y="1231.90" text-anchor="middle" font-size="26.0" class="t">0.0</text>
<line x1="1381.61" y1="1201.60" x2="1381.61" y2="1196.40" stroke="#000" stroke-width="1.5"/>
<line x1="1436.97" y1="1201.60" x2="1436.97" y2="1191.10" stroke="#000" stroke-width="1.5"/>
<text x="1436.97" y="1231.90" text-anchor="middle" font-size="26.0" class="t">0.5</text>
<line x1="1492.33" y1="1201.60" x2="1492.33" y2="1196.40" stroke="#000" stroke-width="1.5"/>
<line x1="1547.68" y1="1201.60" x2="1547.68" y2="1191.10" stroke="#000" stroke-width="1.5"/>
<text x="1547.68" y="1231.90" text-anchor="middle" font-size="26.0" class="t">1.0</text>
<line x1="1603.04" y1="1201.60" x2="1603.04" y2="1196.40" stroke="#000" stroke-width="1.5"/>
<text x="1658.40" y="1231.90" text-anchor="middle" font-size="26.0" class="t">1.5</text>
<text x="1325.50" y="1279.10" text-anchor="middle" font-size="40.6" class="t">Time (ns)</text>
<text transform="translate(897.60 943.20) rotate(-90)" text-anchor="middle" font-size="40.6" class="t">Counts</text>
<rect x="1180.90" y="713.00" width="477.50" height="101.50" fill="#fff" stroke="none"/>
<path d="M1180.90 713.00 V814.50 H1658.40" fill="none" stroke="#000" stroke-width="1.2"/>
<line x1="1201.00" y1="731.50" x2="1261.50" y2="731.50" stroke="#000" stroke-width="1.6"/>
<line x1="1201.00" y1="800.20" x2="1261.50" y2="800.20" stroke="#ff0000" stroke-width="1.8" stroke-dasharray="8.8 9.3"/>
<text x="1269.20" y="739.80" font-size="26.3" class="t" textLength="377.00" lengthAdjust="spacing">Time spectrum by bipolar TOT</text>
<text x="1267.60" y="774.80" font-size="26.3" class="t" textLength="63.30" lengthAdjust="spacing">CRT:</text>
<text x="1338.20" y="774.80" font-size="26.3" class="t" textLength="42.60" lengthAdjust="spacing">168</text>
<text x="1388.50" y="774.50" font-size="30" class="n" stroke="#000" stroke-width="0.35">±</text>
<text x="1409.20" y="774.80" font-size="26.3" class="t" textLength="15.60" lengthAdjust="spacing">4</text>
<text x="1431.80" y="774.80" font-size="26.3" class="t" textLength="29.70" lengthAdjust="spacing">ps</text>
<text x="1268.10" y="807.70" font-size="26.3" class="t" textLength="150.70" lengthAdjust="spacing">Gaussian fit</text>
<line x1="1658.40" y1="712.00" x2="1658.40" y2="1202.10" stroke="#000" stroke-width="1"/>
<line x1="993.10" y1="713.00" x2="1658.90" y2="713.00" stroke="#000" stroke-width="2"/>
</g>
</svg>
</body></html>
